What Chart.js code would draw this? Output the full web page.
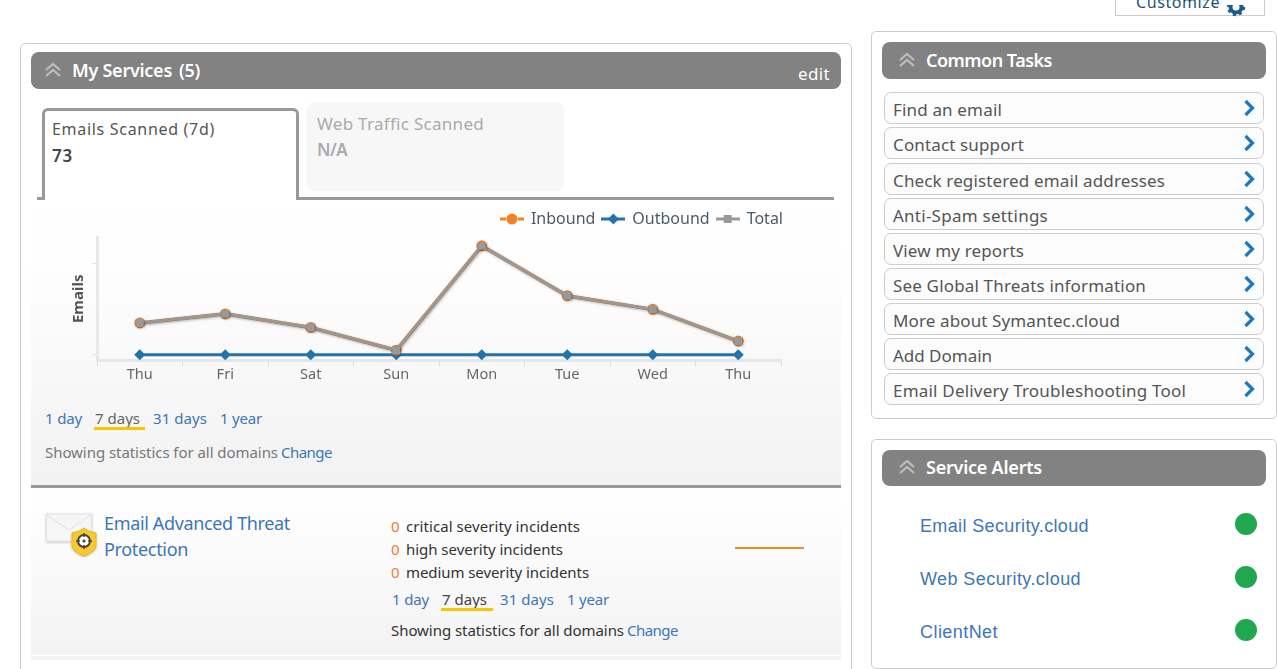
<!DOCTYPE html>
<html><head><meta charset="utf-8">
<script src="https://cdn.jsdelivr.net/npm/chart.js@4"></script>
<style>
html,body{margin:0;padding:0;background:#fff;overflow:hidden}
body{width:1277px;height:669px;position:relative;font-family:"Noto Sans",sans-serif}
.b{position:absolute;box-sizing:border-box}
.t{position:absolute;white-space:nowrap;line-height:1;transform:translateY(-50%)}
canvas{position:absolute;left:31px;top:198px}
</style></head><body>
<div id="page"></div>
<canvas id="c" width="810" height="200"></canvas>
<script>
const categories=['Thu','Fri','Sat','Sun','Mon','Tue','Wed','Thu'];
const inbound=[7,9,6,1,24,13,10,3];
const outbound=[0,0,0,0,0,0,0,0];
const total=[7,9,6,1,24,13,10,3];
const yTicks=[0,20];
const ORANGE='#f58220',BLUE='#2272ab',GRAY='#999999';
const LINK='#3d76b9',HEAD='#828282';
const tasks=[['Find an email',109],['Contact support',131],['Check registered email addresses',272],['Anti-Spam settings',155],['View my reports',131],['See Global Threats information',253],['More about Symantec.cloud',227],['Add Domain',99],['Email Delivery Troubleshooting Tool',293]];
const taskTops=[92,127,163,198,233,268,303,338,373];
const alerts=[['Email Security.cloud',169,527],['Web Security.cloud',161,580],['ClientNet',78,633]];

const page=document.getElementById('page');
function box(x,y,w,h,css){const d=document.createElement('div');d.className='b';d.style.cssText=`left:${x}px;top:${y}px;width:${w}px;height:${h}px;${css||''}`;page.appendChild(d);return d;}
function txt(s,x,y,size,color,w,extra){const d=document.createElement('div');d.className='t';d.textContent=s;d.style.cssText=`left:${x}px;top:${y-1}px;font-size:${size}px;color:${color};${extra||''}`;page.appendChild(d);
 if(w){const cur=d.getBoundingClientRect().width;d.style.letterSpacing=((w-cur)/s.length)+'px';}return d;}
function svg(x,y,w,h,inner){const d=document.createElement('div');d.style.cssText=`position:absolute;left:${x}px;top:${y}px;width:${w}px;height:${h}px`;d.innerHTML=`<svg xmlns="http://www.w3.org/2000/svg" width="${w}" height="${h}" viewBox="0 0 ${w} ${h}">${inner}</svg>`;page.appendChild(d);}
function dbl(x,y){svg(x,y,18,16,'<path d="M2 8 L9 2 L16 8 M2 14 L9 8 L16 14" fill="none" stroke="#bdbdbd" stroke-width="2.2"/>');}
function chev(x,y){svg(x,y,12,18,'<path d="M2.5 2 L9.5 9 L2.5 16" fill="none" stroke="#1b78c2" stroke-width="3.2"/>');}
const BOLD='font-weight:600;';
const ranges=(x0,y,ul)=>{[['1 day',0,37],['7 days',50,45],['31 days',108,54],['1 year',175,42]].forEach((r,i)=>txt(r[0],x0+r[1],y,15,i==1?(ul.c):LINK,r[2]));
 box(x0-1+50,y+ul.o,ul.w,2.5,'background:#f7c600');};

/* customize */
box(1115,-10,150,26,'border:1px solid #ccc;background:#fff');
txt('Customize',1136,3,16,'#1d4f7c',84);
svg(1226,0,20,12,'<circle cx="10" cy="2" r="5.5" fill="none" stroke="#1d5a8a" stroke-width="4"/><circle cx="10" cy="2" r="8" fill="none" stroke="#1d5a8a" stroke-width="2.4" stroke-dasharray="3 3.3"/>');

/* left panel */
box(20,43,832,640,'border:1px solid #ccc;border-radius:5px;background:#fff');
box(31,52,810,37,`background:${HEAD};border-radius:8px`);
dbl(44,61);
txt('My Services',72,71,18,'#fff',100,BOLD);
txt('(5)',179,71,18,'#fff',21,BOLD);
txt('edit',798,74,17,'#fff',32);
box(31,200,810,285,'background:linear-gradient(#fff 0%,#fdfdfd 30%,#f2f2f2 100%)');
box(37,197,797,3,'background:#999');
box(42,108,257,92,'border:3px solid #999;border-bottom:none;border-radius:6px 6px 0 0;background:#fff');
box(307,102,257,89,'background:#f7f7f7;border-radius:8px');
txt('Emails Scanned (7d)',52,130,16,'#555',163);
txt('73',52,156,17,'#444',21,BOLD);
txt('Web Traffic Scanned',317,124,17,'#aaa',167);
txt('N/A',317,150,17,'#aaa',30,BOLD);
ranges(45,419,{c:'#666',o:8,w:51});
txt('Showing statistics for all domains',45,453,15,'#777',233);
txt('Change',281,453,15,LINK,51);
box(31,485,810,3,'background:#999');
box(31,488,810,167,'background:linear-gradient(#fff 0%,#fdfdfd 20%,#f3f3f3 100%)');
box(31,656,810,4,'background:#f3f3f3');
svg(44,510,54,48,`<defs><filter id="s"><feDropShadow dx="0" dy="1" stdDeviation="1.2" flood-color="#000" flood-opacity=".25"/></filter></defs>
<rect x="2.5" y="4" width="45" height="27" fill="#f6f6f6" stroke="#e4e4e4" filter="url(#s)"/><path d="M3 5 L25 20 L47 5" fill="none" stroke="#e2e2e2"/>
<path d="M28 23 Q36 22 40 18 Q44 22 52 23 L52 37 Q50 42 40 46 Q30 42 28 37 Z" fill="#f7c92f" stroke="#e5b41e" filter="url(#s)"/>
<circle cx="40" cy="31" r="6" fill="#fff" stroke="#444" stroke-width="2"/><circle cx="40" cy="31" r="1.6" fill="#444"/>
<path d="M40 23 V27 M40 35 V39 M32 31 H36 M44 31 H48" stroke="#444" stroke-width="1.5"/>`);
txt('Email Advanced Threat',104,524,18,LINK,186);
txt('Protection',104,550,18,LINK,84);
[['critical severity incidents',174,527],['high severity incidents',157,550],['medium severity incidents',183,573]].forEach(r=>{
 txt('0',391,r[2],15,'#f47b3a',8);txt(r[0],406,r[2],15,'#333',r[1]);});
box(735,547,69,2,'background:#f08a24');
ranges(392,600,{c:'#444',o:8,w:52});
txt('Showing statistics for all domains',391,631,15,'#333',233);
txt('Change',627,631,15,LINK,51);

/* right panels */
box(871,31,406,388,'border:1px solid #ccc;border-radius:5px;background:#fff');
box(882,42,384,37,`background:${HEAD};border-radius:8px`);
dbl(898,51);
txt('Common Tasks',926,61,18,'#fff',126,BOLD);
tasks.forEach((r,i)=>{const y=taskTops[i];
 box(884,y,380,32,'border:1px solid #ccc;border-radius:7px;background:#fcfcfc');
 txt(r[0],893,y+18,17,'#555',r[1]);chev(1243,y+7);});
box(871,439,406,230,'border:1px solid #ccc;border-radius:5px;background:#fff');
box(882,450,384,36,`background:${HEAD};border-radius:8px`);
dbl(898,458);
txt('Service Alerts',926,468,18,'#fff',116,BOLD);
alerts.forEach(r=>{txt(r[0],920,r[2],18,LINK,r[1],'font-family:"Liberation Sans"');
 box(1235,r[2]-14,22,22,'background:#1fa84f;border-radius:50%');});

/* legend marker pictures */
function legendIcon(color,dash,draw){const c=document.createElement('canvas');c.style.display='none';c.width=24;c.height=14;const g=c.getContext('2d');
 g.strokeStyle=color;g.fillStyle=color;g.lineWidth=3;g.setLineDash(dash);g.beginPath();g.moveTo(0,7);g.lineTo(24,7);g.stroke();g.setLineDash([]);draw(g);return c;}
const icons=[
 legendIcon(ORANGE,[6,3],g=>{g.beginPath();g.arc(12,7,5.5,0,7);g.fill();}),
 legendIcon(BLUE,[],g=>{g.beginPath();g.moveTo(12,1.5);g.lineTo(17.5,7);g.lineTo(12,12.5);g.lineTo(6.5,7);g.fill();}),
 legendIcon(GRAY,[],g=>{g.fillRect(8,3,8,8);})];

const shadow={id:'shadow',
 beforeDatasetDraw(c,a){if(a.index===2){c.ctx.save();c.ctx.shadowColor='rgba(0,0,0,.35)';c.ctx.shadowBlur=3;c.ctx.shadowOffsetX=1;c.ctx.shadowOffsetY=1;}},
 afterDatasetDraw(c,a){if(a.index===2)c.ctx.restore();}};
const shiftLegend={id:'shiftLegend',afterLayout(c){c.legend.left+=9;c.legend.right+=9;}};

new Chart(document.getElementById('c'),{type:'line',plugins:[shadow,shiftLegend],
 data:{labels:categories,datasets:[
  {label:'Inbound',data:inbound,borderColor:ORANGE,backgroundColor:ORANGE,borderWidth:3.5,pointStyle:'circle',pointRadius:5.5,pointBorderWidth:0,order:1,tension:0},
  {label:'Outbound',data:outbound,borderColor:BLUE,backgroundColor:BLUE,borderWidth:3,pointStyle:'rectRot',pointRadius:5.5,pointBorderWidth:0,order:2,tension:0},
  {label:'Total',data:total,borderColor:GRAY,backgroundColor:GRAY,borderWidth:3,pointStyle:'rect',pointRadius:5.6,pointBorderWidth:0,order:0,tension:0}]},
 options:{responsive:false,animation:false,
  font:{family:'"Noto Sans"'},
  layout:{padding:{left:39,right:60,top:6,bottom:14}},
  plugins:{tooltip:{enabled:false},
   legend:{position:'top',align:'end',labels:{usePointStyle:true,pointStyleWidth:22,padding:7,color:'#4a5a68',font:{family:'"Noto Sans"',size:16},
    generateLabels:ch=>ch.data.datasets.map((d,i)=>({text:d.label,pointStyle:icons[i],datasetIndex:i,fontColor:'#4a5a68',lineWidth:0,strokeStyle:'transparent',fillStyle:'transparent'}))}}},
  scales:{
   x:{offset:true,border:{color:'#e6e6e6',width:3},grid:{drawOnChartArea:false,offset:true,color:'#d3dde8',tickLength:6,drawTicks:true},
      ticks:{color:'#666',font:{family:'"Noto Sans"',size:14.5},padding:0,maxRotation:0,autoSkip:false}},
   y:{min:-1.3,max:25.95,border:{color:'#e8e8e8',width:3},
      afterBuildTicks:s=>{s.ticks=yTicks.map(v=>({value:v}));},
      grid:{drawOnChartArea:false,color:'#e6e6e6',tickLength:5},
      ticks:{display:false},
      title:{display:true,text:'Emails',color:'#555',padding:{top:0,bottom:4},font:{family:'"Noto Sans"',size:15,weight:'bold'}}}
  }}});
</script>
</body></html>
